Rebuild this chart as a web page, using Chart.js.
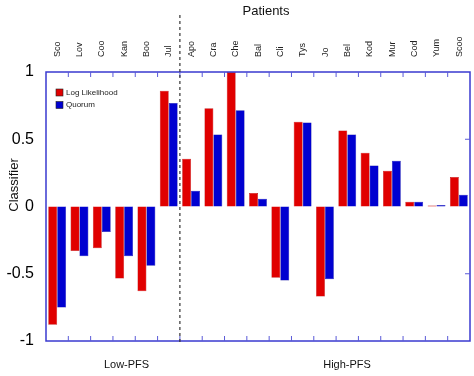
<!DOCTYPE html>
<html><head><meta charset="utf-8">
<script src="https://cdn.jsdelivr.net/npm/chart.js@4/dist/chart.umd.min.js"></script>
<style>html,body{margin:0;padding:0;background:#fff}#wrap{width:474px;height:376px}</style>
</head><body><div id="wrap"><canvas id="c" width="474" height="376"></canvas></div>
<script>
const patients = ['Sco','Lov','Coo','Kan','Boo','Jul','Apo','Cra','Che','Bal','Cli','Tys','Jo','Bel','Kod','Mur','Cod','Yum','Scoo'];
const logLikelihood = [-0.88,-0.33,-0.31,-0.535,-0.63,0.86,0.355,0.73,1.0,0.10,-0.53,0.63,-0.67,0.565,0.40,0.265,0.035,0.007,0.22];
const quorum = [-0.75,-0.37,-0.19,-0.37,-0.44,0.77,0.117,0.535,0.715,0.057,-0.55,0.625,-0.54,0.535,0.305,0.34,0.035,0.012,0.087];
const yTicks = [-1,-0.5,0,0.5,1];
const groupNames = ['Low-PFS','High-PFS'];
const groupSplit = 6; // index of first High-PFS patient

const FONT = 'Arial, "Liberation Sans", sans-serif';

const extras = {
  id: 'extras',
  afterDatasetsDraw(chart) {
    const {ctx, chartArea: a, scales: {x, y}} = chart;
    ctx.save();
    // frame
    ctx.strokeStyle = '#3a3ad0';
    ctx.lineWidth = 1.5;
    ctx.strokeRect(a.left, a.top, a.right - a.left, a.bottom - a.top);
    // inward ticks at category boundaries
    ctx.lineWidth = 1;
    ctx.strokeStyle = '#5a5ad8';
    ctx.beginPath();
    for (let i = 1; i < patients.length; i++) {
      const bx = (x.getPixelForValue(i - 1) + x.getPixelForValue(i)) / 2;
      ctx.moveTo(bx, a.top); ctx.lineTo(bx, a.top + 5);
      ctx.moveTo(bx, a.bottom); ctx.lineTo(bx, a.bottom - 5);
    }
    [-0.5, 0.5].forEach(v => {
      const py = y.getPixelForValue(v);
      ctx.moveTo(a.right, py); ctx.lineTo(a.right - 5, py);
    });
    ctx.stroke();
    // dashed separator
    const sx = (x.getPixelForValue(groupSplit - 1) + x.getPixelForValue(groupSplit)) / 2;
    ctx.strokeStyle = '#333';
    ctx.lineWidth = 1.2;
    ctx.setLineDash([3, 3]);
    ctx.beginPath();
    ctx.moveTo(sx, 15); ctx.lineTo(sx, a.bottom + 2);
    ctx.stroke();
    ctx.setLineDash([]);
    // legend
    chart.data.datasets.forEach((ds, i) => {
      const ly = 89 + i * 12.5;
      ctx.fillStyle = ds.backgroundColor;
      ctx.fillRect(a.left + 10, ly, 7, 7);
      ctx.strokeStyle = '#222';
      ctx.lineWidth = 0.6;
      ctx.strokeRect(a.left + 10, ly, 7, 7);
      ctx.fillStyle = '#222';
      ctx.font = '8px ' + FONT;
      ctx.textAlign = 'left';
      ctx.textBaseline = 'middle';
      ctx.fillText(ds.label, a.left + 20, ly + 3.5);
    });
    // texts
    ctx.fillStyle = '#111';
    ctx.textAlign = 'center';
    ctx.textBaseline = 'middle';
    ctx.font = '13px ' + FONT;
    ctx.fillText('Patients', 266, 11);
    ctx.font = '11px ' + FONT;
    const w = a.right - a.left;
    ctx.fillText(groupNames[0], a.left + 0.19 * w, 365);
    ctx.fillText(groupNames[1], a.left + 0.71 * w, 365);
    ctx.save();
    ctx.translate(14, 185);
    ctx.rotate(-Math.PI / 2);
    ctx.font = '13px ' + FONT;
    ctx.fillText('Classifier', 0, 0);
    ctx.restore();
    ctx.restore();
  }
};

new Chart(document.getElementById('c'), {
  type: 'bar',
  data: {
    labels: patients,
    datasets: [
      {label: 'Log Likelihood', data: logLikelihood, backgroundColor: '#e00000', borderColor: '#b00000', borderWidth: 0.5},
      {label: 'Quorum', data: quorum, backgroundColor: '#0000d0', borderColor: '#00009a', borderWidth: 0.5}
    ]
  },
  options: {
    responsive: false,
    animation: false,
    devicePixelRatio: 1,
    categoryPercentage: 0.8,
    barPercentage: 1,
    layout: {padding: {left: 0, right: 4, top: 0, bottom: 35}},
    plugins: {legend: {display: false}, tooltip: {enabled: false}},
    scales: {
      x: {
        position: 'top',
        offset: true,
        grid: {display: false, drawTicks: false},
        border: {display: false},
        ticks: {autoSkip: false, minRotation: 90, maxRotation: 90, padding: 15, labelOffset: 11, color: '#222', font: {family: FONT, size: 9}},
        afterFit: s => { s.height = 72; }
      },
      y: {
        min: -1, max: 1,
        afterBuildTicks: s => { s.ticks = yTicks.map(v => ({value: v})); },
        grid: {display: false, drawTicks: false},
        border: {display: false},
        ticks: {padding: 12, color: '#000', font: {family: FONT, size: 16}, callback: v => String(v)},
        afterFit: s => { s.width = 46; }
      }
    }
  },
  plugins: [extras]
});
</script>
</body></html>
